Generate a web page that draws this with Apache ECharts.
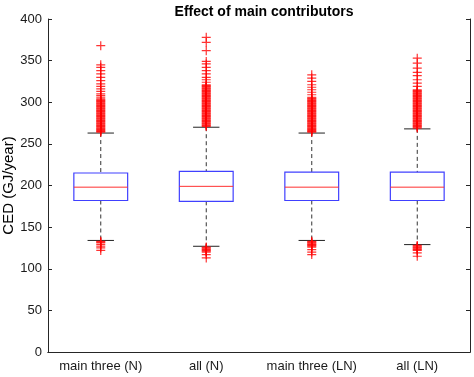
<!DOCTYPE html>
<html>
<head>
    <meta charset="utf-8">
    <title>Effect of main contributors</title>
    <script src="https://cdn.jsdelivr.net/npm/echarts@6/dist/echarts.min.js"></script>
    <style>
        html, body { margin: 0; padding: 0; background: #fff; }
        #chart { width: 474px; height: 377px; }
    </style>
</head>
<body>
    <div id="chart"></div>
    <script>
        // categories and box stats: [lowWhisker, q1, median, q3, highWhisker]
        var categories = ['main three (N)', 'all (N)', 'main three (LN)', 'all (LN)'];
        var boxStats = [
            [134, 182, 198, 215, 263],
            [127, 181, 199, 217, 270],
            [134, 182, 198, 216, 263],
            [129, 182, 198, 216, 268]
        ];
        var yTicks = [0, 50, 100, 150, 200, 250, 300, 350, 400];

        // outliers, one list per box
        var outMainN = [264, 265, 266, 267, 268, 269, 270, 271, 272, 273, 274, 275, 276, 277, 278, 279, 280, 281, 282, 283, 284,
            285, 286, 287, 288, 289, 290, 291, 292, 293, 294, 295, 296, 297, 298, 299, 300, 301, 302, 303, 304,
            306, 308, 310, 313, 316, 319, 322, 326, 330, 334, 338, 342, 345, 368,
            133, 132, 131, 129, 127, 125, 122];
        var outAllN = [271, 272, 273, 274, 275, 276, 277, 278, 279, 280, 281, 282, 283, 284, 285, 286, 287, 288, 289, 290, 291,
            292, 293, 294, 295, 296, 297, 298, 299, 300, 301, 302, 303, 304, 305, 306, 307, 308, 309, 310, 311, 312, 313,
            314, 315, 316, 317, 318, 319, 320, 321,
            324, 327, 330, 334, 338, 342, 346, 349, 362, 372, 378,
            126, 125, 124, 123, 122, 121, 120, 117, 113];
        var outMainLN = [264, 265, 266, 267, 268, 269, 270, 271, 272, 273, 274, 275, 276, 277, 278, 279, 280, 281, 282, 283, 284,
            285, 286, 287, 288, 289, 290, 291, 292, 293, 294, 295, 296, 297, 298, 299, 300, 301, 302, 303, 304, 305, 306,
            309, 312, 315, 318, 321, 325, 329, 333,
            133, 132, 131, 130, 129, 128, 127, 126, 123, 120, 117];
        var outAllLN = [269, 270, 271, 272, 273, 274, 275, 276, 277, 278, 279, 280, 281, 282, 283, 284, 285, 286, 287, 288, 289,
            290, 291, 292, 293, 294, 295, 296, 297, 298, 299, 300, 301, 302, 303, 304, 305, 306, 307, 308, 309, 310, 311,
            312, 313, 314, 315,
            319, 323, 327, 332, 336, 341, 347, 353,
            128, 127, 126, 125, 124, 123, 122, 119, 115];
        var outliers = [outMainN, outAllN, outMainLN, outAllLN];

        var chart = echarts.init(document.getElementById('chart'));

        var boxData = boxStats.map(function (s, i) { return [i].concat(s); });
        var outData = [];
        outliers.forEach(function (list, i) {
            list.forEach(function (v) { outData.push([i, v]); });
        });

        var fontFam = '"Liberation Sans", Arial, sans-serif';
        var axisCol = '#262626';

        function renderBox(params, api) {
            var i = api.value(0);
            var pLow = api.coord([i, api.value(1)]);
            var pQ1 = api.coord([i, api.value(2)]);
            var pMed = api.coord([i, api.value(3)]);
            var pQ3 = api.coord([i, api.value(4)]);
            var pHigh = api.coord([i, api.value(5)]);
            var bw = api.size([1, 0])[0];
            var half = bw * 0.255;
            var cap = bw * 0.125;
            var cx = pMed[0];
            var dash = { stroke: '#333', lineWidth: 1, lineDash: [4, 3] };
            var solid = { stroke: '#222', lineWidth: 1 };
            return {
                type: 'group',
                children: [
                    { type: 'line', shape: { x1: cx, y1: pHigh[1], x2: cx, y2: pQ3[1] }, style: dash },
                    { type: 'line', shape: { x1: cx, y1: pQ1[1], x2: cx, y2: pLow[1] }, style: dash },
                    { type: 'line', shape: { x1: cx - cap, y1: pHigh[1], x2: cx + cap, y2: pHigh[1] }, style: solid },
                    { type: 'line', shape: { x1: cx - cap, y1: pLow[1], x2: cx + cap, y2: pLow[1] }, style: solid },
                    { type: 'rect', shape: { x: cx - half, y: pQ3[1], width: half * 2, height: pQ1[1] - pQ3[1] },
                      style: { fill: 'none', stroke: '#4040ff', lineWidth: 1.2 } },
                    { type: 'line', shape: { x1: cx - half, y1: pMed[1], x2: cx + half, y2: pMed[1] },
                      style: { stroke: '#ff3030', lineWidth: 1 } }
                ]
            };
        }

        var option = {
            animation: false,
            backgroundColor: '#fff',
            title: {
                text: 'Effect of main contributors',
                left: 259,
                textAlign: 'center',
                top: 0,
                textStyle: { fontFamily: fontFam, fontSize: 14, fontWeight: 'bold', color: '#000' }
            },
            grid: { left: 48, right: 4, top: 19, bottom: 25, containLabel: false, outerBoundsMode: 'none' },
            xAxis: [
                {
                    type: 'category',
                    data: categories,
                    boundaryGap: true,
                    axisLine: { lineStyle: { color: axisCol } },
                    axisTick: { inside: true, alignWithLabel: true, length: 4, lineStyle: { color: axisCol } },
                    axisLabel: { interval: 0, fontFamily: fontFam, fontSize: 13, color: '#1a1a1a', margin: 8 },
                    splitLine: { show: false }
                },
                {
                    type: 'category',
                    data: categories,
                    position: 'top',
                    boundaryGap: true,
                    axisLine: { lineStyle: { color: axisCol } },
                    axisTick: { inside: true, alignWithLabel: true, length: 4, lineStyle: { color: axisCol } },
                    axisLabel: { show: false }
                }
            ],
            yAxis: [
                {
                    type: 'value',
                    min: yTicks[0],
                    max: yTicks[yTicks.length - 1],
                    interval: 50,
                    name: 'CED (GJ/year)',
                    nameLocation: 'middle',
                    nameGap: 32,
                    nameMoveOverlap: false,
                    nameTextStyle: { fontFamily: fontFam, fontSize: 15, color: '#000' },
                    axisLine: { show: true, lineStyle: { color: axisCol } },
                    axisTick: { show: true, inside: true, length: 4, lineStyle: { color: axisCol } },
                    axisLabel: { fontFamily: fontFam, fontSize: 13, color: '#1a1a1a', margin: 6 },
                    splitLine: { show: false }
                },
                {
                    type: 'value',
                    min: yTicks[0],
                    max: yTicks[yTicks.length - 1],
                    interval: 50,
                    position: 'right',
                    axisLine: { show: true, lineStyle: { color: axisCol } },
                    axisTick: { show: true, inside: true, length: 4, lineStyle: { color: axisCol } },
                    axisLabel: { show: false },
                    splitLine: { show: false }
                }
            ],
            series: [
                {
                    type: 'custom',
                    renderItem: renderBox,
                    encode: { x: 0, y: [1, 2, 3, 4, 5] },
                    data: boxData,
                    z: 2
                },
                {
                    type: 'scatter',
                    symbol: 'path://M0,5L10,5M5,0L5,10',
                    symbolSize: 9,
                    itemStyle: { color: 'none', borderColor: '#ff0000', borderWidth: 1.2 },
                    data: outData,
                    z: 3
                }
            ]
        };
        chart.setOption(option);
    </script>
</body>
</html>
